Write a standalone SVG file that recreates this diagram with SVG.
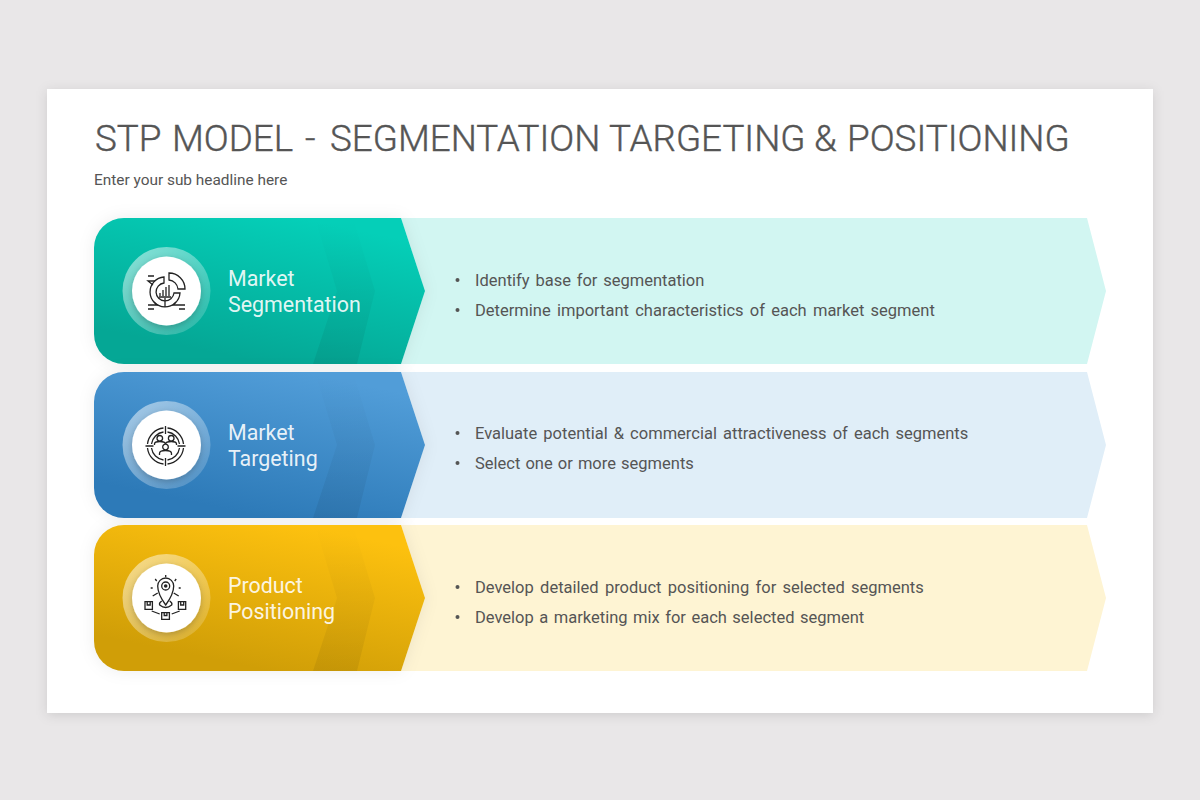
<svg xmlns="http://www.w3.org/2000/svg" width="1200" height="800" viewBox="0 0 1200 800">
<style>
text{font-family:Roboto,"Liberation Sans",sans-serif}
.t{font-size:36.800px;fill:#555;font-weight:300;stroke:#555;stroke-width:.4}
.s{font-size:15.400px;fill:#555}
.h{font-size:21.400px;fill:#fff;fill-opacity:.9}
.b{font-size:16.500px;fill:#555;word-spacing:2px}
.d{fill:#555}
.i{fill:none;stroke:#222;stroke-width:1.300}
.if{fill:#222}
.ring{fill:url(#ring)}
.disc{fill:#fff;filter:url(#ds)}
</style>
<defs>
<filter id="card" x="-5%" y="-5%" width="110%" height="110%"><feGaussianBlur stdDeviation="6"/></filter>
<filter id="ds" x="-30%" y="-30%" width="160%" height="160%"><feDropShadow dx="0" dy="2" stdDeviation="3" flood-color="#000" flood-opacity=".22"/></filter>
<filter id="soft" x="-30%" y="-30%" width="160%" height="160%"><feGaussianBlur stdDeviation="8"/></filter>
<linearGradient id="ring" x1="0" y1="0" x2="1" y2="1"><stop offset="0" stop-color="#fff" stop-opacity=".55"/><stop offset="1" stop-color="#fff" stop-opacity=".12"/></linearGradient>
<linearGradient id="g1" gradientUnits="userSpaceOnUse" x1="300" y1="0" x2="270" y2="146"><stop offset="0" stop-color="#05cfb8"/><stop offset="1" stop-color="#05a795"/></linearGradient>
<linearGradient id="g2" gradientUnits="userSpaceOnUse" x1="300" y1="0" x2="270" y2="146"><stop offset="0" stop-color="#519dd8"/><stop offset="1" stop-color="#2d7ab8"/></linearGradient>
<linearGradient id="g3" gradientUnits="userSpaceOnUse" x1="300" y1="0" x2="270" y2="146"><stop offset="0" stop-color="#fdc10f"/><stop offset="1" stop-color="#d09e07"/></linearGradient>
<linearGradient id="sh" x1="0" y1="0" x2="0" y2="1"><stop offset="0" stop-color="#000" stop-opacity="0"/><stop offset="1" stop-color="#000" stop-opacity=".07"/></linearGradient>
<path id="head" d="M124 0H401L425 73L401 146H124A30 30 0 0 1 94 116V30A30 30 0 0 1 124 0Z"/>
<path id="tail" d="M401 0H1087L1106 73L1087 146H401L425 73Z"/>
<path id="ch2" d="M315 0L337 73L313 146H357L375 73L353 0Z"/>
</defs>
<rect width="1200" height="800" fill="#e9e7e8"/>
<rect x="47" y="91" width="1106" height="624" fill="#000" fill-opacity=".12" filter="url(#card)"/>
<rect x="47" y="89" width="1106" height="624" fill="#fff"/>
<text class="t" y="151"><tspan x="95">STP</tspan><tspan x="172">MODEL</tspan><tspan x="305">-</tspan><tspan x="330">SEGMENTATION</tspan><tspan x="609">TARGETING</tspan><tspan x="814">&amp;</tspan><tspan x="847">POSITIONING</tspan></text>
<text class="s" x="94" y="185">Enter your sub headline here</text>
<g id="connectors"></g>

<g id="node-segmentation" transform="translate(0,218)">
<use href="#tail" fill="#d2f6f2"/>
<use href="#head" fill="#000" fill-opacity=".07" filter="url(#soft)"/>
<use href="#head" fill="url(#g1)"/>
<use href="#ch2" fill="url(#sh)"/>
<circle class="ring" cx="166.500" cy="73" r="44"/>
<circle class="disc" cx="166.500" cy="73" r="34.500"/>
<g transform="translate(165,74)">
<path class="i" d="M-1 -15A15 15 0 1 0 15 1H9A9 9 0 1 1 -1 -9Z"/>
<path class="i" d="M4 -19A16 16 0 0 1 20 -3H13A10 10 0 0 0 4 -12Z"/>
<path class="i" d="M0 6V15M-11 10L-8 13H-17M11 10L8 13H20M-12 -7L-17 -11H-10M-17 -16H-11M14 17H20M-17 17H-11"/>
<path class="i" d="M-5 4V1M-2 4V-2M1 4V-5M4 4V-7M-6 5H6"/>
</g>
<text class="h" x="228" y="68">Market</text>
<text class="h" x="228" y="94">Segmentation</text>
<circle class="d" cx="457.500" cy="62" r="2"/>
<text class="b" x="475" y="68" style="word-spacing:1.700px">Identify base for segmentation</text>
<circle class="d" cx="457.500" cy="92" r="2"/>
<text class="b" x="475" y="98" style="word-spacing:2.150px">Determine important characteristics of each market segment</text>
</g>

<g id="node-targeting" transform="translate(0,372)">
<use href="#tail" fill="#e0eef8"/>
<use href="#head" fill="#000" fill-opacity=".07" filter="url(#soft)"/>
<use href="#head" fill="url(#g2)"/>
<use href="#ch2" fill="url(#sh)"/>
<circle class="ring" cx="166.500" cy="73" r="44"/>
<circle class="disc" cx="166.500" cy="73" r="34.500"/>
<g transform="translate(165.500,74)">
<path class="i" d="M-2 -18A18 18 0 0 0 -18 -2M2 -18A18 18 0 0 1 18 -2M-18 2A18 18 0 0 0 -2 18M18 2A18 18 0 0 1 2 18"/>
<path class="i" d="M-2 -14A14 14 0 0 0 -14 -2M2 -14A14 14 0 0 1 14 -2M-14 2A14 14 0 0 0 -2 14M14 2A14 14 0 0 1 2 14"/>
<path class="i" d="M0 -20V-12M0 12V20M-20 0H-12M12 0H20"/>
<circle class="i" cx="-5.700" cy="-7.700" r="2.800"/>
<circle class="i" cx="5.700" cy="-7.700" r="2.800"/>
<circle class="i" cx="0" cy="1" r="2.800"/>
<path class="i" d="M-6 9V7.500Q-6 4.500 0 4.500T6 7.500V9M-11 -1V-2Q-11 -4.500 -5.700 -4.500T0 -2M11 -1V-2Q11 -4.500 5.700 -4.500T0 -2"/>
</g>
<text class="h" x="228" y="68">Market</text>
<text class="h" x="228" y="94">Targeting</text>
<circle class="d" cx="457.500" cy="61" r="2"/>
<text class="b" x="475" y="67">Evaluate potential &amp; commercial attractiveness of each segments</text>
<circle class="d" cx="457.500" cy="91" r="2"/>
<text class="b" x="475" y="97" style="word-spacing:1px">Select one or more segments</text>
</g>

<g id="node-positioning" transform="translate(0,525)">
<use href="#tail" fill="#fef4d3"/>
<use href="#head" fill="#000" fill-opacity=".07" filter="url(#soft)"/>
<use href="#head" fill="url(#g3)"/>
<use href="#ch2" fill="url(#sh)"/>
<circle class="ring" cx="166.500" cy="73" r="44"/>
<circle class="disc" cx="166.500" cy="73" r="34.500"/>
<g transform="translate(165.700,73)">
<path class="i" d="M0 7Q-8 -4 -8 -12A8 8 0 0 1 8 -12Q8 -4 0 7Z"/>
<circle class="i" cy="-12" r="4"/>
<circle class="if" cy="-12" r="1.800"/>
<path class="i" d="M-4 3Q-7 5 -6 7Q-3 9.500 0 9.500T6 7Q7 5 4 3M0 -21V-23M-9 -17L-10.500 -19M9 -17L10.500 -19M-13 -10H-15M13 -10H15M-13 -2L-8 -5M13 -2L8 -5M-14 13L-6 16M14 13L6 16"/>
<path class="i" d="M-20.700 3.700H-13.300V11.300H-20.700ZM12.700 3.700H20V11.300H12.700ZM-4 14.700H3.700V21.300H-4ZM-18.500 3.700V7H-15.500V3.700M15 3.700V7H18V3.700M-1.500 14.700V17.500H1.200V14.700"/>
</g>
<text class="h" x="228" y="68">Product</text>
<text class="h" x="228" y="94">Positioning</text>
<circle class="d" cx="457.500" cy="62" r="2"/>
<text class="b" x="475" y="68" style="word-spacing:2.200px">Develop detailed product positioning for selected segments</text>
<circle class="d" cx="457.500" cy="92" r="2"/>
<text class="b" x="475" y="98" style="word-spacing:1.400px">Develop a marketing mix for each selected segment</text>
</g>
</svg>
